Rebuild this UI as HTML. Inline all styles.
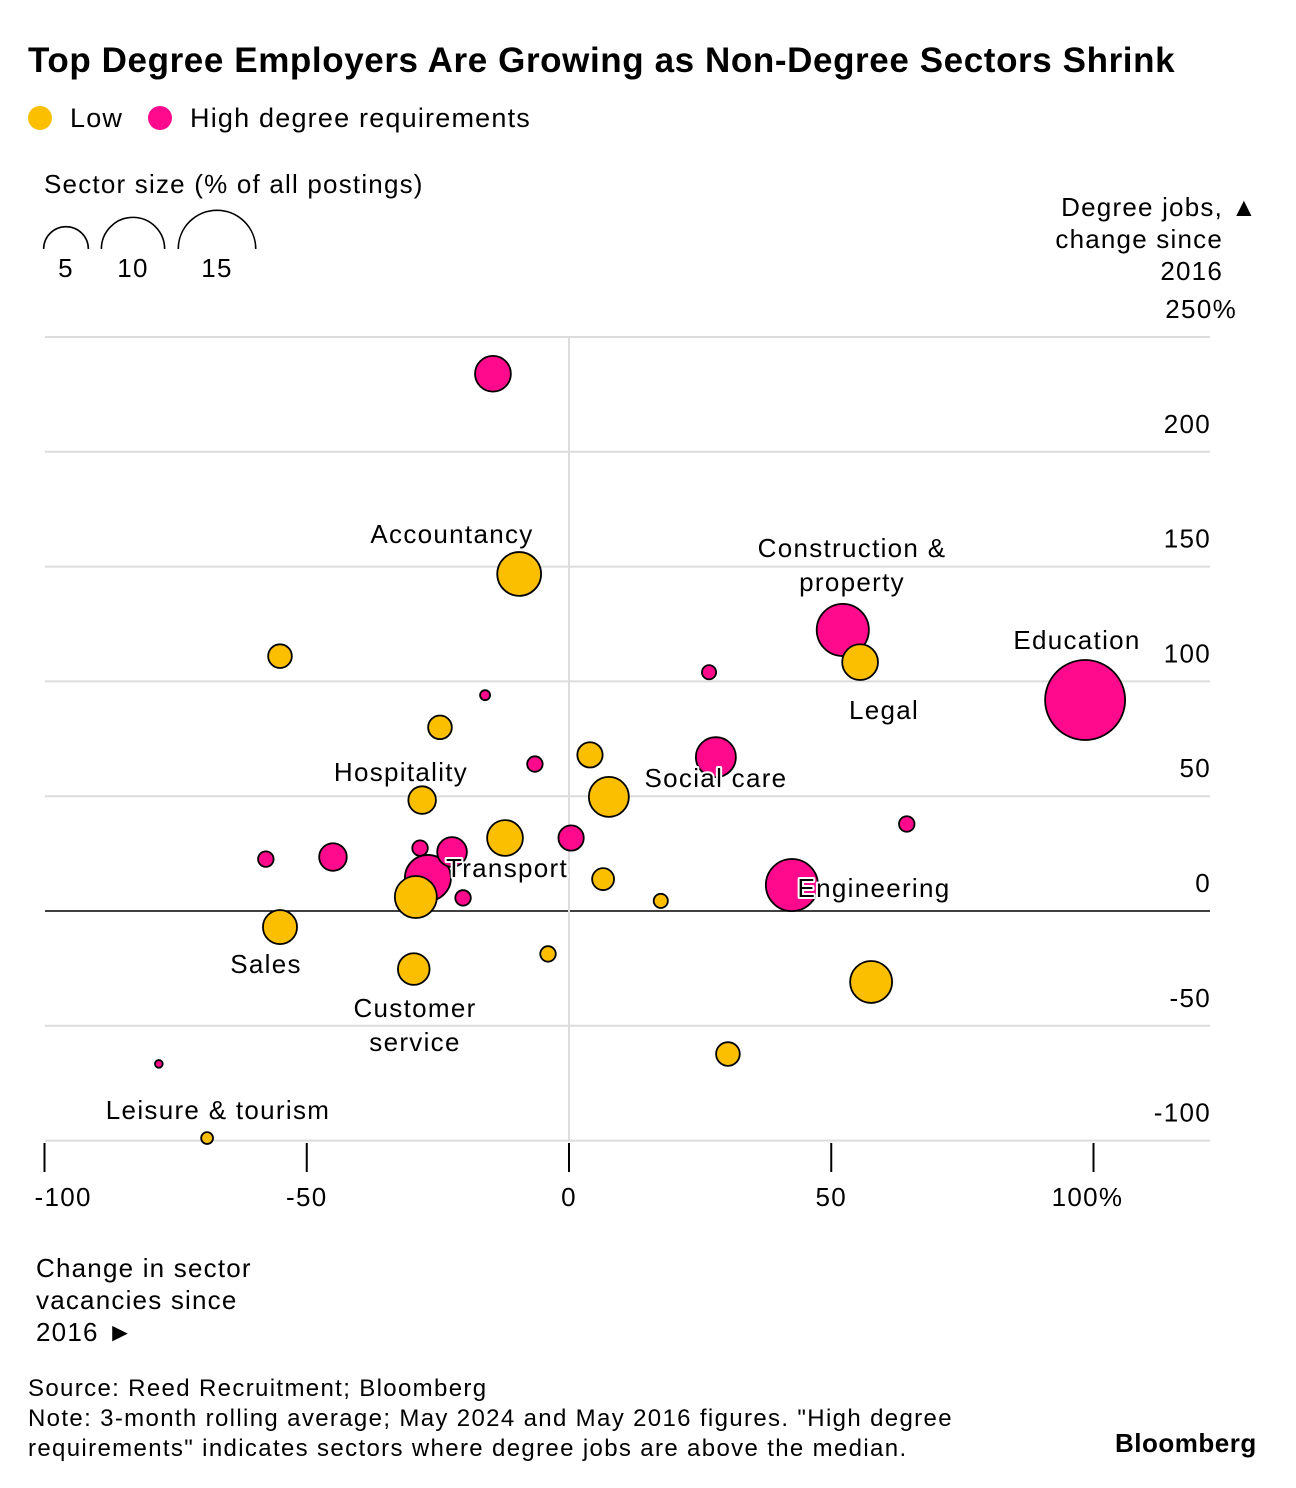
<!DOCTYPE html>
<html><head><meta charset="utf-8"><style>
body{margin:0;background:#fff;font-family:"Liberation Sans",sans-serif;color:#000}
#c{position:relative;width:1296px;height:1488px;overflow:hidden}
.t{position:absolute;white-space:nowrap;letter-spacing:1.2px}
svg text{letter-spacing:1.3px}
</style></head><body>
<div id="c">
<div class="t" style="left:28px;top:41px;font-size:35px;font-weight:bold;letter-spacing:0.6px">Top Degree Employers Are Growing as Non-Degree Sectors Shrink</div>
<div class="t" style="left:28px;top:103px;font-size:27px"><span style="display:inline-block;width:24px;height:24px;border-radius:50%;background:#fcbf00;vertical-align:-3px;margin-right:18px"></span>Low</div>
<div class="t" style="left:148px;top:103px;font-size:27px"><span style="display:inline-block;width:24px;height:24px;border-radius:50%;background:#ff0a8c;vertical-align:-3px;margin-right:18px"></span>High degree requirements</div>
<div class="t" style="left:44px;top:169px;font-size:26px">Sector size (% of all postings)</div>
<div class="t" style="right:73px;top:191px;font-size:26px;text-align:right;line-height:32px">Degree jobs,<span style="position:absolute;left:100%;margin-left:8px">▲</span><br>change since<br>2016</div>
<div class="t" style="left:36px;top:1252px;font-size:26px;line-height:32px">Change in sector<br>vacancies since<br>2016 ►</div>
<div class="t" style="left:28px;top:1374px;font-size:24px;line-height:30px;letter-spacing:1.35px">Source: Reed Recruitment; Bloomberg<br>Note: 3-month rolling average; May 2024 and May 2016 figures. "High degree<br>requirements" indicates sectors where degree jobs are above the median.</div>
<div class="t" style="left:1115px;top:1428px;font-size:26px;font-weight:bold;letter-spacing:0.5px">Bloomberg</div>
<svg id="s" width="1296" height="1488" style="position:absolute;left:0;top:0"></svg>
</div>
<script>
const xVals=[-14.5,-9.5,-55.1,-16,-24.6,-6.5,4,26.7,52.2,55.5,98.4,28,7.6,-28,64.4,0.4,-12.2,-45,-57.8,-28.4,-22.3,-26.9,-29.2,-20.2,6.5,17.5,42.5,-55.1,-29.6,-4,57.6,30.3,-78.2,-69];
const yVals=[234,146.8,111,94,80,64,68,104,122.4,108.4,91.9,67,49.7,48.3,37.9,31.8,31.8,23.5,22.6,27.4,25.7,14.4,6.1,5.7,13.9,4.4,11.3,-7,-25.3,-18.7,-30.9,-62.3,-66.6,-98.9];
const sizes=[3.2,4.8,1.4,0.25,1.4,0.6,1.6,0.5,6.8,3.2,16,4,4,1.9,0.6,1.6,3.2,1.9,0.6,0.6,2.2,5.3,4.4,0.6,1.2,0.5,6.8,2.9,2.5,0.6,4.4,1.4,0.15,0.35];
const groups=['h','l','l','h','l','h','l','h','h','l','h','h','l','l','h','h','l','h','h','h','h','h','l','h','l','l','h','l','l','l','l','l','h','l'];
const xTicks=[-100,-50,0,50,100];
const xTickLabels=['-100','-50','0','50','100%'];
const yTicks=[250,200,150,100,50,0,-50,-100];
const yTickLabels=['250%','200','150','100','50','0','-50','-100'];
const labels=[['Accountancy',452,543],['Construction &',852,557],['property',852,591],['Education',1077,649],['Legal',884,719],['Hospitality',401,781],['Social care',716,787],['Transport',507,877],['Engineering',874,897],['Sales',266,973],['Customer',415,1017],['service',415,1051],['Leisure & tourism',218,1119]];
const sx=v=>569+v*5.245, sy=v=>911-v*2.296, sr=v=>10*Math.sqrt(v);
const s=document.getElementById('s'),NS='http://www.w3.org/2000/svg';
function mk(t,a,p){const e=document.createElementNS(NS,t);for(const k in a)e.setAttribute(k,a[k]);(p||s).appendChild(e);return e;}
[[5,66],[10,133],[15,217]].forEach(([v,cx])=>{const r=sr(v);
 const p=mk('path',{d:`M${cx-r},249 A${r},${r} 0 0 1 ${cx+r},249`,fill:'none',stroke:'#000','stroke-width':1.6});
 
 
 const t=mk('text',{x:cx,y:277,'font-size':26,'text-anchor':'middle'});t.textContent=v;
 
 });
yTicks.forEach((v,i)=>{const y=sy(v);
 const l=mk('line',{x1:45,x2:1210,y1:y,y2:y,stroke:v===0?'#000':'#dcdcdc','stroke-width':v===0?1.6:2});
 
 
 const t=mk('text',{x:i===0?1237:1211,y:y-19,'font-size':26,'text-anchor':'end'});t.textContent=yTickLabels[i];
 
 });
const vl=mk('line',{x1:sx(0),x2:sx(0),y1:sy(250),y2:sy(-100),stroke:'#dcdcdc','stroke-width':2});


xTicks.forEach((v,i)=>{const x=sx(v);
 const l=mk('line',{x1:x,x2:x,y1:1143,y2:1172,stroke:'#000','stroke-width':2});
 
 
 const t=mk('text',{x:i===0?x-10:(i===4?x-6:x),y:1206,'font-size':26,'text-anchor':i===0?'start':'middle'});t.textContent=xTickLabels[i];
 
 });
const idx=sizes.map((v,i)=>i).sort((a,b)=>sizes[b]-sizes[a]);
idx.forEach(i=>{const c=mk('circle',{cx:sx(xVals[i]),cy:sy(yVals[i]),r:sr(sizes[i]),fill:groups[i]==='h'?'#ff0a8c':'#fcbf00',stroke:'#000','stroke-width':1.8});
 
 });
labels.forEach(([txt,x,y])=>{const t=mk('text',{x:x,y:y,'font-size':26,'text-anchor':'middle',stroke:'#fff','stroke-width':4,'paint-order':'stroke','stroke-linejoin':'round'});t.textContent=txt;
 
 });
</script>
</body></html>
